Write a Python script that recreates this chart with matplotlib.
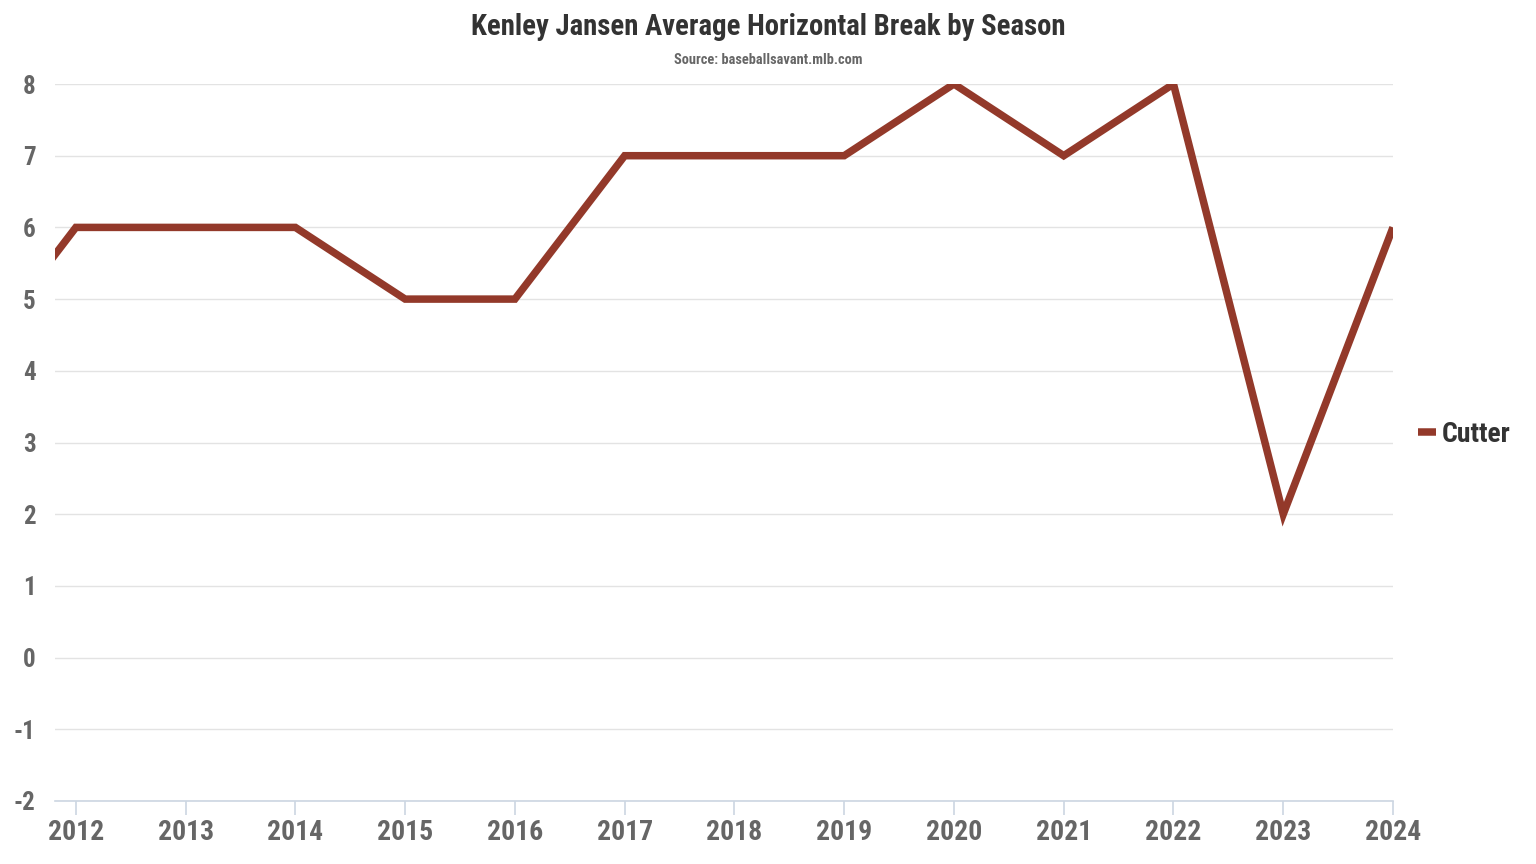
import matplotlib
matplotlib.use("Agg")
import matplotlib.pyplot as plt
from matplotlib import font_manager

# pick a condensed face if one is around, else plain Roboto
names = {f.name for f in font_manager.fontManager.ttflist}
fam = [n for n in ['Roboto Condensed', 'Liberation Sans Narrow', 'Roboto'] if n in names] + ['DejaVu Sans']
plt.rcParams['font.family'] = fam
plt.rcParams['axes.unicode_minus'] = False

seasons = [2011, 2012, 2013, 2014, 2015, 2016, 2017, 2018, 2019, 2020, 2021, 2022, 2023, 2024]
cutter = [4, 6, 6, 6, 5, 5, 7, 7, 7, 8, 7, 8, 2, 6]
year_ticks = list(range(2012, 2025))
y_ticks = list(range(-2, 9))

fig = plt.figure(figsize=(15.36, 8.64), dpi=100)
ax = fig.add_axes([55 / 1536, 1 - 801 / 864, (1393 - 55) / 1536, (801 - 84) / 864])

ax.plot(seasons, cutter, color='#93392a', lw=5.4, solid_joinstyle='miter',
        solid_capstyle='butt', label='Cutter')

ax.set_xlim(2011.81, 2024)
ax.set_ylim(-2, 8)
ax.set_xticks(year_ticks)
ax.set_yticks(y_ticks)
ax.grid(axis='y', color='#e3e3e3', lw=1)
ax.set_axisbelow(True)
for s in ['top', 'right', 'left']:
    ax.spines[s].set_visible(False)
ax.spines['bottom'].set_color('#ccd6e2')
ax.spines['bottom'].set_linewidth(1.2)
ax.tick_params(axis='x', colors='#ccd6e2', length=10, width=1.2, pad=3)
ax.tick_params(axis='y', length=0, pad=14)
for lab in ax.get_xticklabels():
    lab.set_color('#666666')
    lab.set_fontweight('bold')
    lab.set_fontsize(20)
for lab in ax.get_yticklabels():
    lab.set_color('#666666')
    lab.set_fontweight('bold')
    lab.set_fontsize(18)

leg = ax.legend(loc='center left', bbox_to_anchor=(1.0187, 0.511), frameon=False,
                borderaxespad=0, borderpad=0,
                handlelength=0.65, handletextpad=0.2,
                prop={'weight': 'bold', 'size': 20})
for t in leg.get_texts():
    t.set_color('#333333')

fig.text(0.5, 1 - 27 / 864, 'Kenley Jansen Average Horizontal Break by Season',
         ha='center', va='center', fontsize=20.7, fontweight='bold', color='#333333')
fig.text(0.5, 1 - 60 / 864, 'Source: baseballsavant.mlb.com',
         ha='center', va='center', fontsize=10.4, fontweight='bold', color='#666666')

fig.savefig('out.png', dpi=100)
